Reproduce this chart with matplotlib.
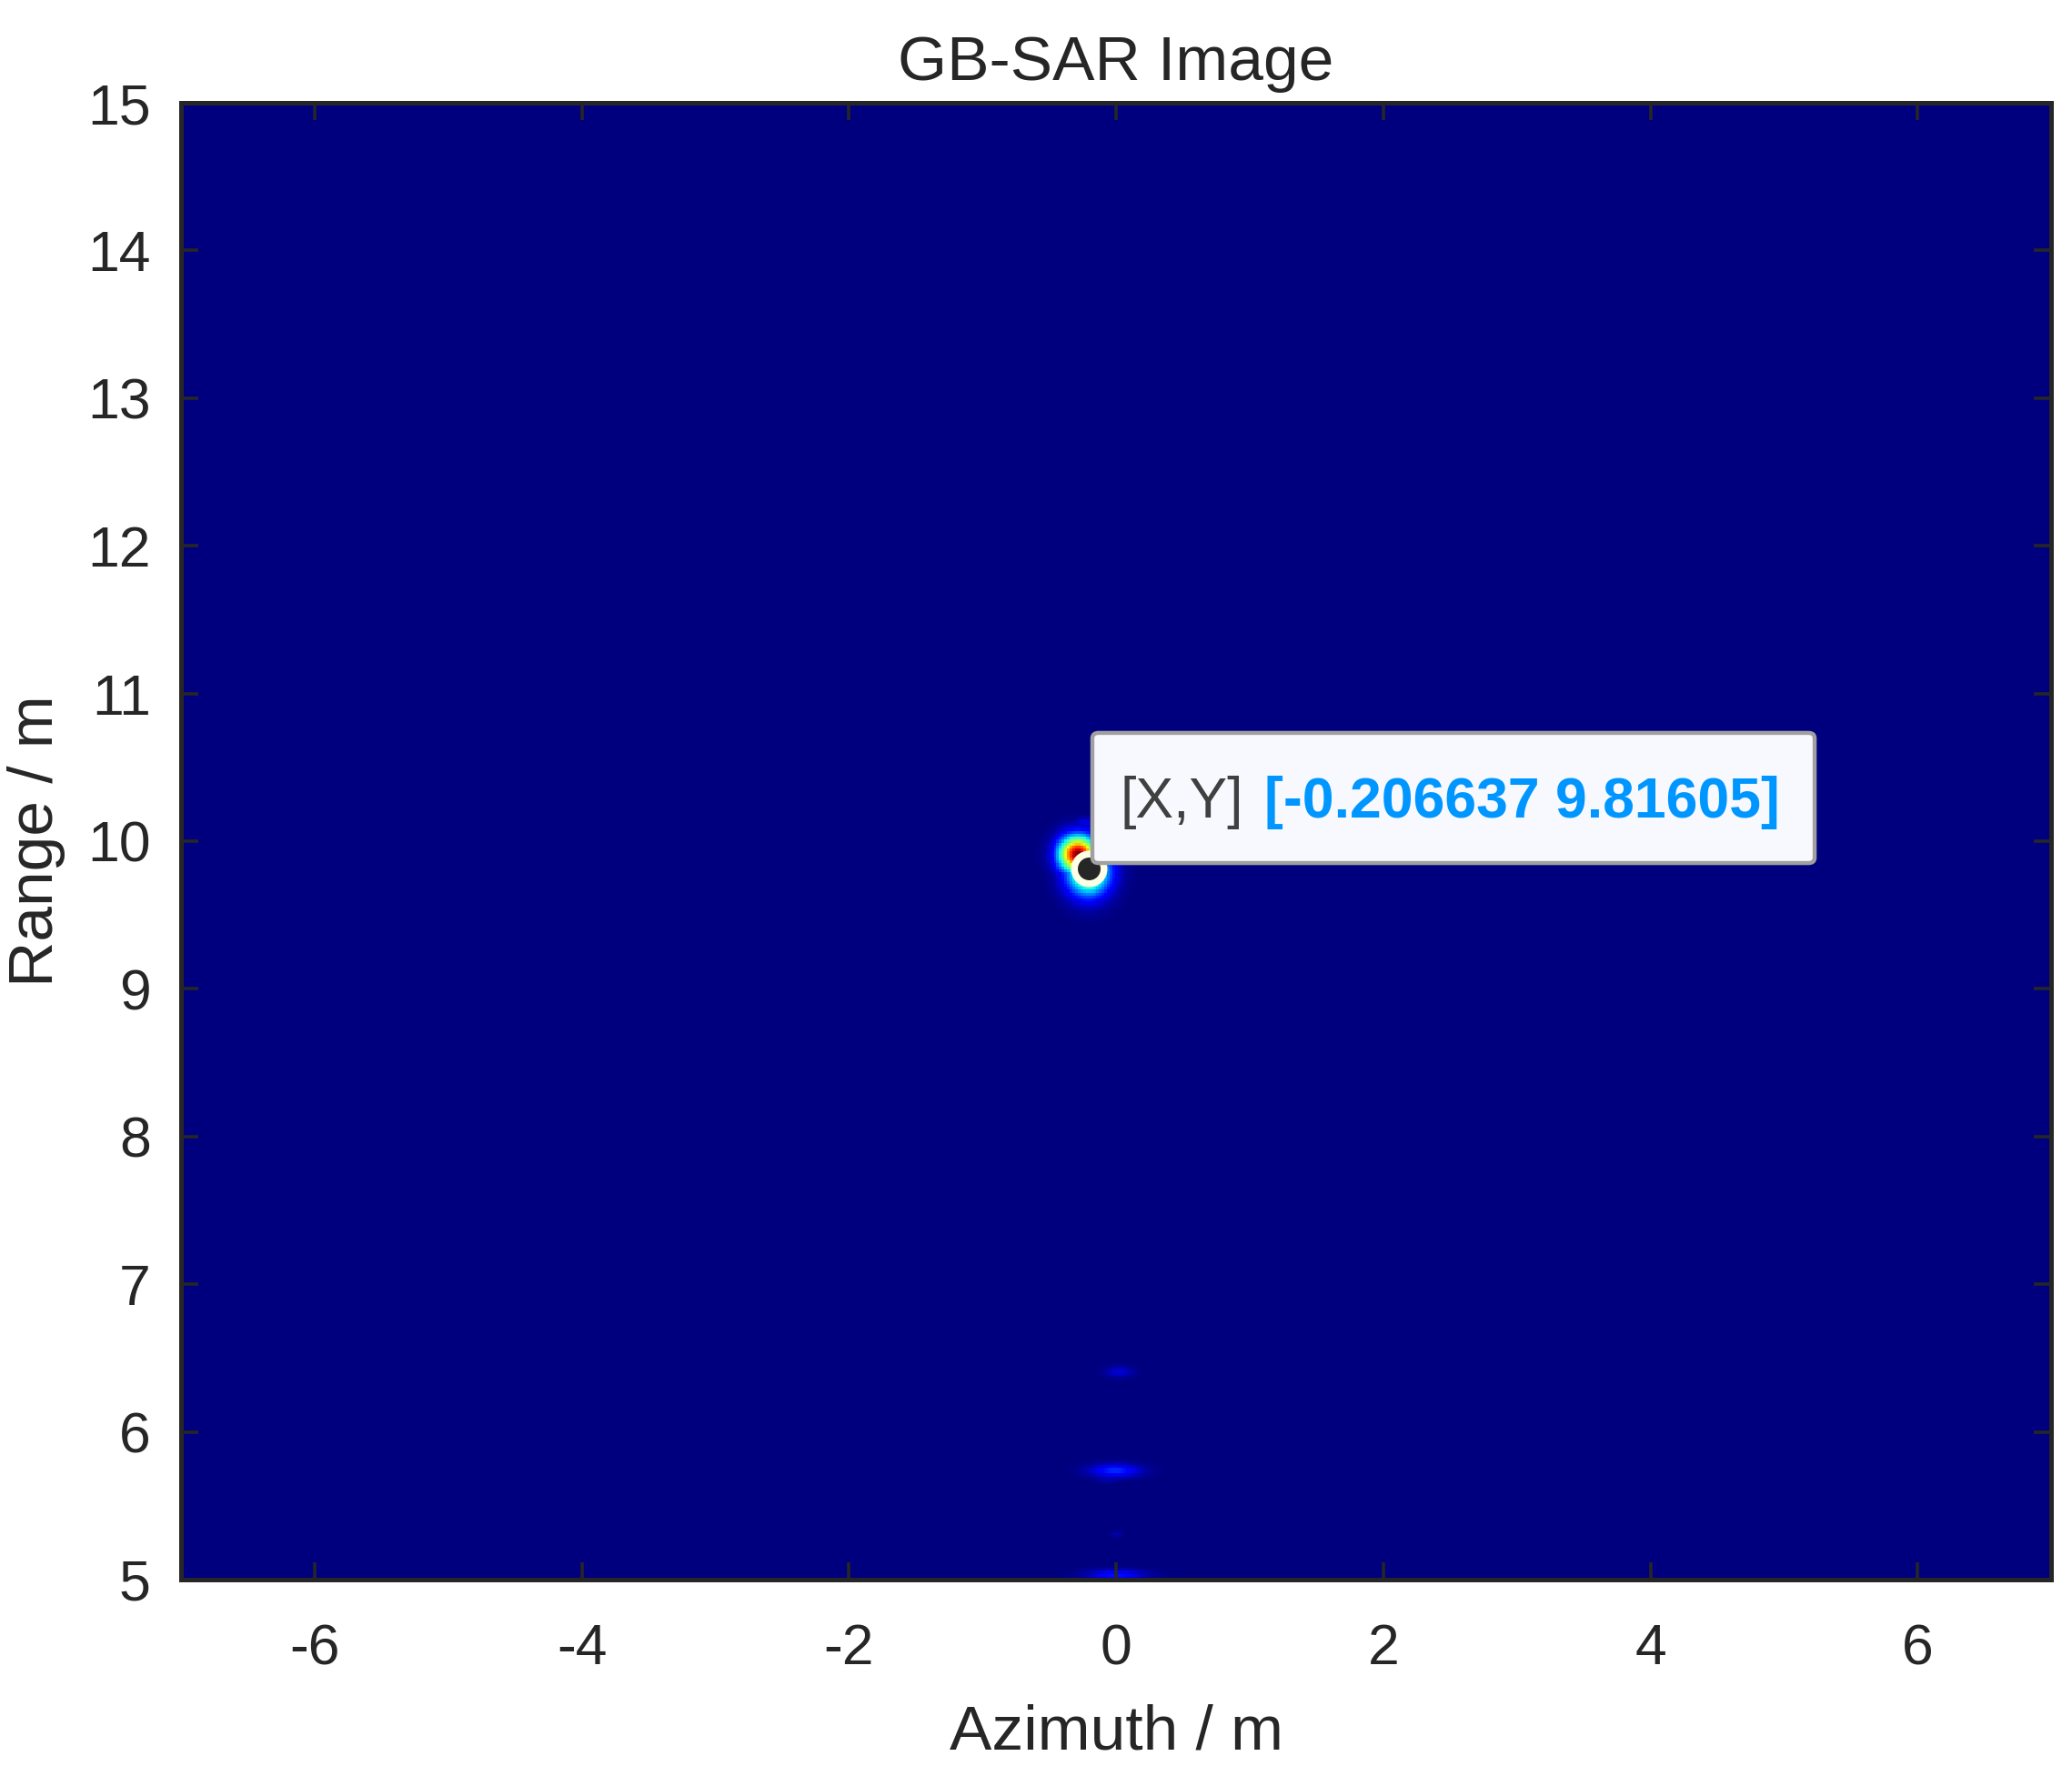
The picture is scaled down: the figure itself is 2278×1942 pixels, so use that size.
import numpy as np
import matplotlib
matplotlib.use("Agg")
import matplotlib.pyplot as plt
from matplotlib.patches import FancyBboxPatch

# ---- data: scatterers in the GB-SAR image ----
target_az = [-0.29, -0.21, -0.24, 0.02, -0.01, -0.07, 0.00, 0.00]      # azimuth (m)
target_rg = [9.91, 9.79, 10.13, 6.40, 5.73, 5.665, 5.30, 5.02]         # range (m)
target_amp = [1.00, 0.65, 0.10, 0.08, 0.17, 0.05, 0.04, 0.14]          # normalised amplitude
target_sig_az = [0.095, 0.11, 0.05, 0.07, 0.13, 0.05, 0.03, 0.15]
target_sig_rg = [0.085, 0.11, 0.02, 0.025, 0.03, 0.012, 0.015, 0.025]

az_lim = [-7, 7]
rg_lim = [5, 15]
xticks = [-6, -4, -2, 0, 2, 4, 6]
yticks = [5, 6, 7, 8, 9, 10, 11, 12, 13, 14, 15]

tip_x = -0.206637
tip_y = 9.81605

# ---- build image grid ----
az = np.arange(az_lim[0], az_lim[1] + 1e-9, 0.02)
rg = np.arange(rg_lim[0], rg_lim[1] + 1e-9, 0.02)
AZ, RG = np.meshgrid(az, rg)
img = np.zeros_like(AZ)
for x0, y0, a, sx, sy in zip(target_az, target_rg, target_amp, target_sig_az, target_sig_rg):
    img = np.maximum(img, a * np.exp(-((AZ - x0) ** 2 / (2 * sx ** 2) + (RG - y0) ** 2 / (2 * sy ** 2))))

plt.rcParams['font.family'] = ['Liberation Sans', 'DejaVu Sans']
dark = '#262626'

fig = plt.figure(figsize=(11.39, 9.71), dpi=200)
ax = fig.add_axes([0.0874, 0.1056, 0.9026, 0.8362])
ax.imshow(img, cmap='jet', vmin=0, vmax=1, origin='lower', aspect='auto',
          extent=[az_lim[0], az_lim[1], rg_lim[0], rg_lim[1]], interpolation='nearest')
ax.set_xlim(az_lim)
ax.set_ylim(rg_lim)
ax.set_xticks(xticks)
ax.set_yticks(yticks)
ax.set_xticklabels([str(t) for t in xticks])
ax.set_yticklabels([str(t) for t in yticks])
ax.tick_params(direction='in', length=7, width=1.3, colors=dark, labelsize=22.5,
               top=True, right=True)
ax.tick_params(axis='x', pad=17)
ax.tick_params(axis='y', pad=12)
for s in ax.spines.values():
    s.set_linewidth(1.8)
    s.set_color(dark)
ax.set_xlabel('Azimuth / m', fontsize=25, color=dark, labelpad=11)
ax.set_ylabel('Range / m', fontsize=25, color=dark)
ax.yaxis.set_label_coords(-0.062, 0.5)
ax.set_title('GB-SAR Image', fontsize=25, color=dark, pad=9)

# ---- datatip ----
box = FancyBboxPatch((0.5272, 0.5113), 0.8758 - 0.5272, 0.5850 - 0.5113,
                     boxstyle='round,pad=0,rounding_size=0.003',
                     transform=fig.transFigure, facecolor='#F8F8FF', edgecolor='#A0A0A0',
                     linewidth=1.6, zorder=5)
fig.patches.append(box)
fig.text(0.5408, 0.5458, '[X,Y]', fontsize=22.5, color='#404040', va='center', ha='left', zorder=6)
fig.text(0.6102, 0.5458, '[-0.206637 9.81605]', fontsize=22.5, color='#0096FF',
         fontweight='bold', va='center', ha='left', zorder=6)
ax.plot([tip_x], [tip_y], 'o', markersize=11.7, markerfacecolor=dark,
        markeredgecolor='#FFFFE6', markeredgewidth=2.7, zorder=7, clip_on=False)

fig.savefig('out.png', dpi=200)
